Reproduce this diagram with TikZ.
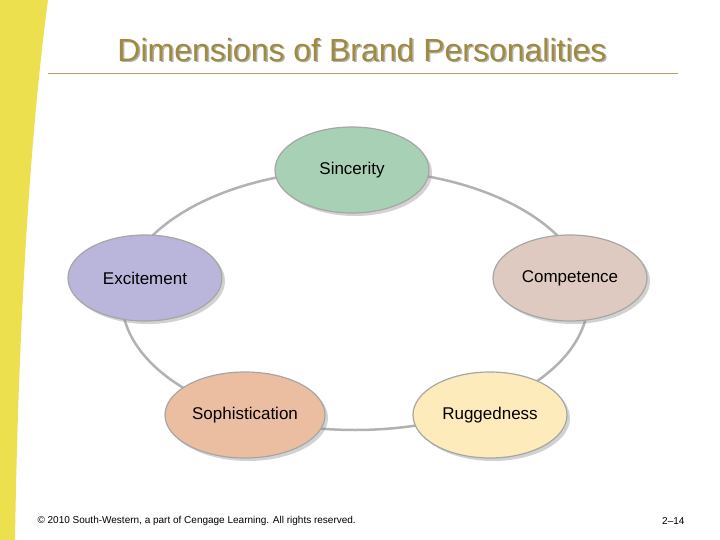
\documentclass[tikz,border=0pt]{standalone}
\usepackage{fontspec}
\setmainfont{Liberation Sans}
\usetikzlibrary{shapes.geometric,shadows}
\definecolor{cSin}{HTML}{A8D0B4}
\definecolor{cExc}{HTML}{B9B5DB}
\definecolor{cCom}{HTML}{DFCAC1}
\definecolor{cSop}{HTML}{EBBEA2}
\definecolor{cRug}{HTML}{FDEBBC}
\definecolor{ttl}{HTML}{A08A3C}
\definecolor{band}{HTML}{EDE04F}
\tikzset{pers/.style={ellipse, draw=gray!70, line width=1.2pt, minimum width=154pt, minimum height=86pt, inner sep=0pt, font=\fontsize{17}{20}\selectfont, drop shadow={shadow xshift=3pt,shadow yshift=-3pt,opacity=0.35}}}
\begin{document}
\begin{tikzpicture}[x=1pt,y=-1pt]
\useasboundingbox (0,0) rectangle (720,540);
\fill[white] (0,0) rectangle (720,540);
\fill[band] (0,0) -- (48,0) .. controls (28,150) and (18,350) .. (15,540) -- (0,540) -- cycle;
\node[text=gray!60, xshift=1.5pt, yshift=-1.5pt] at (362,50) {\fontsize{32}{36}\selectfont Dimensions of Brand Personalities};
\node (title) [text=ttl] at (362,50) {\fontsize{32}{36}\selectfont Dimensions of Brand Personalities};
\draw[ttl!80, line width=0.8pt] (48,73) -- (678,73);
\draw[gray!60, line width=2.5pt] (355,300) ellipse [x radius=233pt, y radius=130pt];
\node (sin) [pers, fill=cSin] at (352,170) {Sincerity};
\node (exc) [pers, fill=cExc] at (145,278) {Excitement};
\node (com) [pers, fill=cCom] at (570,278) {Competence};
\node (sop) [pers, fill=cSop, minimum width=160pt] at (245,415) {Sophistication};
\node (rug) [pers, fill=cRug] at (490,415) {Ruggedness};
\node (foot) [anchor=west, font=\fontsize{10}{12}\selectfont] at (34,521) {© 2010 South-Western, a part of Cengage Learning. All rights reserved.};
\node (pg) [anchor=east, font=\fontsize{10}{12}\selectfont] at (688,521) {2–14};
\end{tikzpicture}
\end{document}
